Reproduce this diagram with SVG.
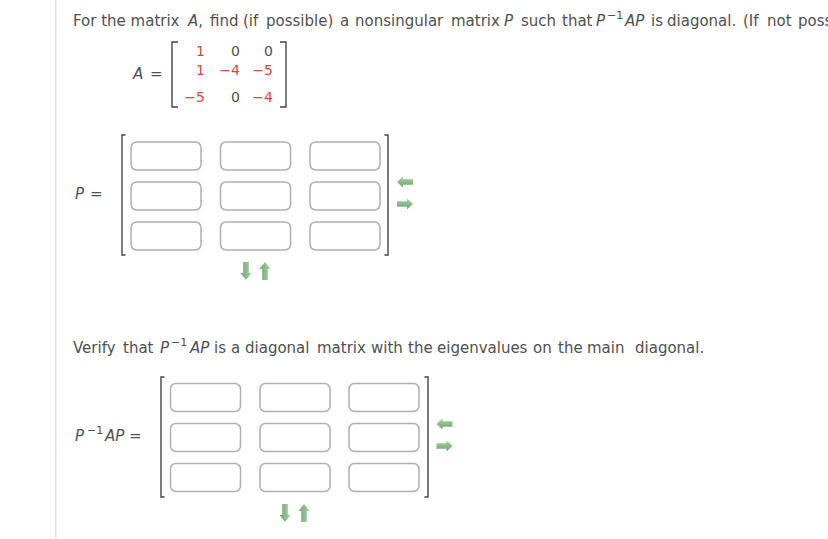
<svg xmlns="http://www.w3.org/2000/svg" width="828" height="539" viewBox="0 0 828 539">
<style>
text{font-family:"DejaVu Sans","Liberation Sans",sans-serif;font-size:15px;fill:#505050}
.i{font-style:italic}
.s{font-size:11px}
.m{font-size:14px;text-anchor:end}
.r{fill:#d9483f}
.g{fill:#505050}
.b{fill:#fff;stroke:#b0b0b0;stroke-width:1.5}
.k{fill:none;stroke:#444;stroke-width:1.4}
</style>
<defs>
<linearGradient id="gh" x1="0" y1="0" x2="0" y2="1"><stop offset="0" stop-color="#a9d2a5"/><stop offset="1" stop-color="#6da56c"/></linearGradient>
<linearGradient id="gv" x1="0" y1="0" x2="1" y2="0"><stop offset="0" stop-color="#6da56c"/><stop offset="1" stop-color="#a9d2a5"/></linearGradient>
<rect id="box" class="b" x="0" y="0" width="70" height="28" rx="5.500"/>
<path id="right" fill="url(#gh)" d="M0,-2.800H10V-5.500L16,0L10,5.500V2.800H0Z"/>
<path id="left" fill="url(#gh)" d="M16,-2.800H6V-5.500L0,0L6,5.500V2.800H16Z"/>
<path id="down" fill="url(#gv)" d="M-2.800,0V11H-5.500L0,18L5.500,11H2.800V0Z"/>
<path id="up" fill="url(#gv)" d="M-2.800,18V7H-5.500L0,0L5.500,7H2.800V18Z"/>
</defs>
<rect width="828" height="539" fill="#fff"/>
<rect x="55" y="0" width="1.500" height="539" fill="#e6e6e6"/>
<g id="question">
<text y="26"><tspan x="73">For the matrix</tspan> <tspan x="188" class="i">A</tspan>, <tspan x="210">find</tspan> <tspan x="243">(if</tspan> <tspan x="266">possible)</tspan> <tspan x="340">a</tspan> <tspan x="355">nonsingular</tspan> <tspan x="451">matrix</tspan> <tspan x="504" class="i">P</tspan> <tspan x="521">such</tspan> <tspan x="562">that</tspan> <tspan x="596" class="i">P</tspan><tspan x="607" y="19" class="s">−1</tspan><tspan x="625" y="26" class="i">AP</tspan> <tspan x="651">is</tspan> <tspan x="667">diagonal.</tspan> <tspan x="743">(If</tspan> <tspan x="767">not</tspan> <tspan x="798">poss</tspan></text>
</g>
<g id="matrix-A">
<text class="i" x="133" y="79">A</text><text x="150" y="79">=</text>
<path class="k" d="M178,42H172V107H178M280,42H286V107H280"/>
<text class="m r" x="205" y="56">1</text><text class="m g" x="240" y="56">0</text><text class="m g" x="273" y="56">0</text>
<text class="m r" x="205" y="75">1</text><text class="m r" x="240" y="75">−4</text><text class="m r" x="273" y="75">−5</text>
<text class="m r" x="205" y="102">−5</text><text class="m g" x="240" y="102">0</text><text class="m r" x="273" y="102">−4</text>
</g>
<g id="matrix-P">
<text class="i" x="75" y="199">P</text><text x="90" y="199">=</text>
<path class="k" d="M125.500,135H122V255H125.500M384.500,135H388V255H384.500"/>
<use href="#box" x="131" y="142"/><use href="#box" x="220.500" y="142"/><use href="#box" x="310" y="142"/>
<use href="#box" x="131" y="182"/><use href="#box" x="220.500" y="182"/><use href="#box" x="310" y="182"/>
<use href="#box" x="131" y="222"/><use href="#box" x="220.500" y="222"/><use href="#box" x="310" y="222"/>
</g>
<g id="arrows-P">
<use href="#left" x="397" y="182"/><use href="#right" x="397" y="204"/>
<use href="#down" x="246" y="262"/><use href="#up" x="265" y="262"/>
</g>
<g id="verify">
<text y="353"><tspan x="73">Verify</tspan> <tspan x="123">that</tspan> <tspan x="160" class="i">P</tspan><tspan x="171" y="346" class="s">−1</tspan><tspan x="190" y="353" class="i">AP</tspan> <tspan x="214">is</tspan> <tspan x="231">a</tspan> <tspan x="245">diagonal</tspan> <tspan x="317">matrix</tspan> <tspan x="371">with</tspan> <tspan x="408">the</tspan> <tspan x="437">eigenvalues</tspan> <tspan x="533">on</tspan> <tspan x="558">the</tspan> <tspan x="587">main</tspan> <tspan x="635">diagonal.</tspan></text>
</g>
<g id="matrix-D">
<text y="441"><tspan x="75" class="i">P</tspan><tspan x="87" y="434" class="s">−1</tspan><tspan x="105" y="441" class="i">AP</tspan> <tspan x="129">=</tspan></text>
<path class="k" d="M164.500,377H161V497H164.500M424.500,377H428V497H424.500"/>
<use href="#box" x="170.500" y="383.500"/><use href="#box" x="260" y="383.500"/><use href="#box" x="349" y="383.500"/>
<use href="#box" x="170.500" y="423.500"/><use href="#box" x="260" y="423.500"/><use href="#box" x="349" y="423.500"/>
<use href="#box" x="170.500" y="463.500"/><use href="#box" x="260" y="463.500"/><use href="#box" x="349" y="463.500"/>
</g>
<g id="arrows-D">
<use href="#left" x="436.500" y="424"/><use href="#right" x="436.500" y="446"/>
<use href="#down" x="285" y="504"/><use href="#up" x="304" y="504"/>
</g>
</svg>
